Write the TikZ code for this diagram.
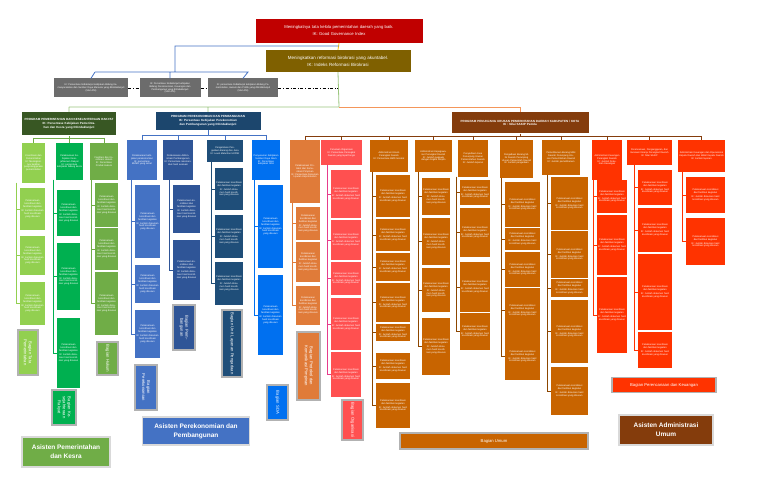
\documentclass[tikz,border=0pt]{standalone}
\usepackage{fontspec}
\setmainfont{Liberation Sans}
\begin{document}
\begin{tikzpicture}[x=1pt,y=-1pt,
  bx/.style={inner sep=0.5pt,align=center,text=white,font=\fontsize{2.4}{2.9}\selectfont},
  lab/.style={inner sep=0.5pt,align=center,text=white,font=\fontsize{4.2}{5}\selectfont,draw=gray!60,line width=1.2pt},
  asis/.style={inner sep=1pt,align=center,text=white,font=\fontsize{6.5}{9}\selectfont\bfseries,draw=gray!30,line width=1.5pt},
  hd/.style={inner sep=0.5pt,align=center,text=white,font=\fontsize{3}{3.8}\selectfont\bfseries}]
\useasboundingbox (0,0) rectangle (768,489);
\fill[white] (0,0) rectangle (768,489);
\definecolor{lime}{HTML}{92D050}\definecolor{grn}{HTML}{00B050}\definecolor{ogrn}{HTML}{70AD47}
\definecolor{b1}{HTML}{4472C4}\definecolor{b2}{HTML}{2F5597}\definecolor{b3}{HTML}{1F4E79}\definecolor{b4}{HTML}{0070F0}
\definecolor{lor}{HTML}{E07B39}\definecolor{pnk}{HTML}{FF5050}\definecolor{brn}{HTML}{C86400}\definecolor{rd}{HTML}{FF3300}
\definecolor{dbr}{HTML}{843C0C}\definecolor{ylw}{HTML}{FFC000}\definecolor{lorl}{HTML}{F4965A}
\definecolor{gred}{HTML}{C00000}\definecolor{olv}{HTML}{7F6000}\definecolor{dgrn}{HTML}{385723}\definecolor{mag}{HTML}{E63C8C}
\newcommand\bx[7]{\node[bx,fill=#6,minimum width={#4-#2},minimum height={#5-#3},text width={#4-#2-2}] (#1) at ({(#2+#4)/2},{(#3+#5)/2}) {#7};}
\newcommand\lb[7]{\node[lab,fill=#6,rotate=-90,minimum width={#5-#3},minimum height={#4-#2},text width={#5-#3-4}] (#1) at ({(#2+#4)/2},{(#3+#5)/2}) {#7};}
\newcommand\itx{Pelaksanaan koordinasi dan fasilitasi kegiatan\\[1pt] IK: Jumlah dokumen hasil koordinasi yang disusun}
\newcommand\mkcol[7]{\foreach \ya/\yb [count=\i] in {#7}{
  \bx{#1\i}{#2}{\ya}{#3}{\yb}{#4}{\itx}
  \draw[#5,line width=0.7pt] ({#2-4},#6) -- ({#2-4},{(\ya+\yb)/2}) -- (#1\i.west);}}
% top
\node[bx,fill=gred,minimum width=167,minimum height=24,text width=160,font=\fontsize{4.2}{7}\selectfont] (g) at (339,31) {Meningkatnya tata kelola pemerintahan daerah yang baik.\\IK: Good Governance Index};
\node[bx,fill=olv,minimum width=145,minimum height=22,text width=140,font=\fontsize{4.5}{7}\selectfont] (r) at (338,61) {Meningkatkan reformasi birokrasi yang akuntabel.\\IK: Indeks Reformasi Birokrasi};
\node[bx,fill=gray!85!black,minimum width=74,minimum height=19,text width=72] (s1) at (91,88) {IK: Persentase tindaklanjut kebijakan Bidang Kemasyarakatan dan Sumber Daya Manusia yang ditindaklanjuti\\(Stat Ahli)};
\node[bx,fill=gray!85!black,minimum width=61,minimum height=19,text width=59] (s2) at (170,88) {IK: Persentase tindaklanjut kebijakan Bidang Perekonomian, Keuangan dan Pembangunan yang ditindaklanjuti\\(Stat Ahli)};
\node[bx,fill=gray!85!black,minimum width=70,minimum height=19,text width=68] (s3) at (243,88) {IK: persentase tindaklanjut kebijakan Bidang Pemerintahan, Hukum dan Politik yang ditindaklanjuti\\(Stat Ahli)};
\draw[ylw,line width=0.8pt] (g.south) -- (r.north);
\draw[b1,line width=0.8pt] (339,46) -| (175,72) (95,72) -- (s1.north) (95,72) -- (248,72) -- (s3.north) (s2.north) |- (175,72);
\draw[dash dot,line width=0.8pt] (s1.east) -- (s2.west) (s2.east) -- (s3.west) (s3.east) -- (339,88);
\draw[ogrn!70,line width=0.8pt] (r.south) -- (339,107) (69,107) -- (339,107) (69,107) -- (69,112) (208,107) -- (208,112);
\draw[lorl,line width=0.8pt] (339,107) -- (520,107) -- (520,112);
% programs
\node[hd,fill=dgrn,minimum width=94,minimum height=23,text width=92] (p1) at (69,124) {PROGRAM PEMERINTAHAN DAN KESEJAHTERAAN RAKYAT\\IK: Persentase Kebijakan Pemerintahan dan Kesra yang Ditindaklanjuti};
\node[hd,fill=b3!90!black,minimum width=105,minimum height=18,text width=102] (p2) at (208,121) {PROGRAM PEREKONOMIAN DAN PEMBANGUNAN\\IK: Persentase Kebijakan Perekonomian dan Pembangunan yang Ditindaklanjuti};
\node[hd,fill=dbr,minimum width=137,minimum height=21,text width=134] (p3) at (520,123) {PROGRAM PENUNJANG URUSAN PEMERINTAHAN DAERAH KABUPATEN / KOTA\\IK : Nilai SAKIP Pemda};
% ---- green
\draw[ogrn,line width=0.7pt] (p1.south) -- (69,138) (33,138) -- (104,138) (33,138) -- (33,143) (69,138) -- (69,143) (104,138)--(104,143);
\bx{a1}{22}{143}{45}{183}{lime}{Koordinasi dan Pemerintahan\\IK: Meningkatnya kualitas penyelenggaraan pemerintahan}
\bx{a2}{56}{143}{83}{180}{grn}{Pelaksanaan Kebijakan Kesejahteraan Rakyat\\IK: persentase kebijakan bidang kesra}
\bx{a3}{90}{143}{118}{180}{ogrn}{Fasilitasi dan Koordinasi Hukum\\IK: Persentase Produk Hukum}
\mkcol{a1c}{20}{45}{lime}{lime}{183}{{188/230},{236/275},{282/325}}
\mkcol{a2c}{57}{80}{grn}{grn}{180}{{190/236},{243/310},{318/388}}
\mkcol{a3c}{95}{118}{ogrn}{ogrn}{180}{{183/227},{228/270},{272/335}}
\lb{la1}{18}{330}{38}{375}{lime}{Bagian Tata Pemerintahan}
\lb{la2}{52}{390}{76}{425}{grn}{Bagian Kesejahteraan Rakyat}
\lb{la3}{97}{342}{118}{375}{ogrn}{Bagian Hukum}
\node[asis,fill=ogrn,minimum width=88,minimum height=30] (as1) at (66,452) {Asisten Pemerintahan\\dan Kesra};
% ---- blue
\draw[b1,line width=0.7pt] (p2.south) -- (208,135) (142,135) -- (266,135) (142,135)--(142,140) (178,135)--(178,140) (225,135)--(225,140) (266,135)--(266,140);
\bx{b1h}{127}{140}{157}{180}{b1}{Pelaksanaan kebijakan perekonomian\\IK: persentase BUMD yang sehat}
\bx{b2h}{163}{140}{193}{180}{b2}{Pelaksanaan Administrasi Pembangunan\\IK: Persentase rekomendasi hasil evaluasi}
\bx{b3h}{207}{140}{243}{162}{b3}{Pengelolaan Pengadaan Barang dan Jasa\\IK: Level Maturitas UKPBJ}
\bx{b4h}{252}{140}{280}{180}{b4}{Penyusunan Kebijakan Sumber Daya Alam\\IK: Persentase kebijakan SDA}
\mkcol{b1c}{135}{160}{b1}{b1}{180}{{185/258},{265/303},{310/358}}
\mkcol{b2c}{173}{200}{b2}{b2}{180}{{185/233},{240/300}}
\mkcol{b3c}{215}{243}{b3}{b3}{162}{{168/210},{215/258},{262/305}}
\mkcol{b4c}{258}{283}{b4}{b4}{180}{{185/268},{275/355}}
\lb{lb1}{135}{365}{157}{410}{b1}{Bagian Perekonomian}
\lb{lb2}{173}{305}{195}{350}{b2}{Bagian Pembangunan}
\lb{lb3}{222}{310}{242}{377}{b3}{Bagian Unit Layanan Pengadaan}
\lb{lb4}{267}{385}{288}{420}{b4}{Bagian SDA}
\node[asis,fill=b1,minimum width=107,minimum height=28] (as2) at (196,431) {Asisten Perekonomian dan\\Pembangunan};
% ---- orange
\draw[dbr,line width=0.7pt] (p3.south) -- (520,136) (305,136) -- (702,136);
\foreach \xx in {305,341,389,433,473,516,561,607,649,701}{\draw[dbr,line width=0.7pt] (\xx,136) -- (\xx,140);}
\bx{c1h}{290}{140}{320}{203}{lor}{Pelaksanaan Protokol dan Komunikasi Pimpinan\\IK: Persentase Dokumen Liputan Keprotokolan}
\bx{c2h}{321}{140}{362}{165}{pnk}{Penataan Organisasi\\IK: Persentase Perangkat Daerah yang tepat fungsi}
\bx{c3h}{370}{140}{408}{172}{brn}{Administrasi Umum Perangkat Daerah\\IK: Persentase BMD tercatat}
\bx{c4h}{415}{140}{452}{172}{brn}{Administrasi Kepegawaian Perangkat Daerah\\IK: Jumlah pegawai dengan tingkat disiplin}
\bx{c5h}{458}{140}{488}{177}{brn}{Penyediaan Jasa Penunjang Urusan Pemerintahan Daerah\\IK: Jumlah laporan}
\bx{c6h}{500}{140}{533}{178}{brn}{Pengadaan Barang Milik Daerah Penunjang Urusan Pemerintah Daerah\\IK: Jumlah pengadaan}
\bx{c7h}{542}{140}{580}{175}{brn}{Pemeliharaan Barang Milik Daerah Penunjang Urusan Pemerintahan Daerah\\IK: Jumlah pemeliharaan}
\bx{c8h}{592}{140}{622}{180}{rd}{Administrasi Keuangan Perangkat Daerah\\IK: Jumlah Dokumen Keuangan}
\bx{c9h}{627}{140}{672}{165}{rd}{Perencanaan, Penganggaran, dan Evaluasi Kinerja Perangkat Daerah\\IK: Nilai SAKIP}
\bx{c10h}{678}{140}{725}{172}{rd}{Administrasi Keuangan dan Operasional Kepala Daerah dan Wakil Kepala Daerah\\IK: Jumlah laporan}
\mkcol{c1c}{296}{320}{lor}{lor}{203}{{207/240},{242/282},{286/325}}
\mkcol{c2c}{331}{361}{pnk}{mag}{165}{{170/218},{220/260},{262/295},{298/350},{352/397}}
\mkcol{c3c}{376}{410}{brn}{brn!70!black}{172}{{175/217},{219/251},{253/281},{283/322},{324/341},{353/379},{383/428}}
\mkcol{c4c}{422}{450}{brn}{brn!70!black}{172}{{178/215},{218/265},{268/312},{318/375}}
\mkcol{c5c}{460}{490}{brn}{brn!70!black}{177}{{180/205},{208/257},{262/312},{313/350}}
\mkcol{c6c}{505}{540}{brn}{brn!70!black}{178}{{182/227},{228/250},{252/287},{288/333},{333/380}}
\mkcol{c7c}{551}{588}{brn}{brn!70!black}{175}{{177/230},{231/278},{279/297},{300/363},{367/415}}
\mkcol{c8c}{597}{627}{rd}{rd}{180}{{180/213},{215/275},{277/353}}
\mkcol{c9c}{638}{672}{rd}{rd}{165}{{170/205},{208/252},{254/330},{332/368}}
\mkcol{c10c}{686}{725}{rd}{rd}{172}{{177/213},{218/265}}
\lb{lc1}{297}{332}{320}{400}{lor}{Bagian Protokol dan Komunikasi Pimpinan}
\lb{lc2}{342}{400}{363}{440}{pnk}{Bagian Organisasi}
\node[lab,fill=brn,minimum width=188,minimum height=16] (lc3) at (494,441) {Bagian Umum};
\node[lab,fill=rd,minimum width=104,minimum height=15] (lc4) at (664,385) {Bagian Perencanaan dan Keuangan};
\node[asis,fill=dbr,minimum width=94,minimum height=30] (as3) at (666,430) {Asisten Administrasi\\Umum};
\end{tikzpicture}
\end{document}
